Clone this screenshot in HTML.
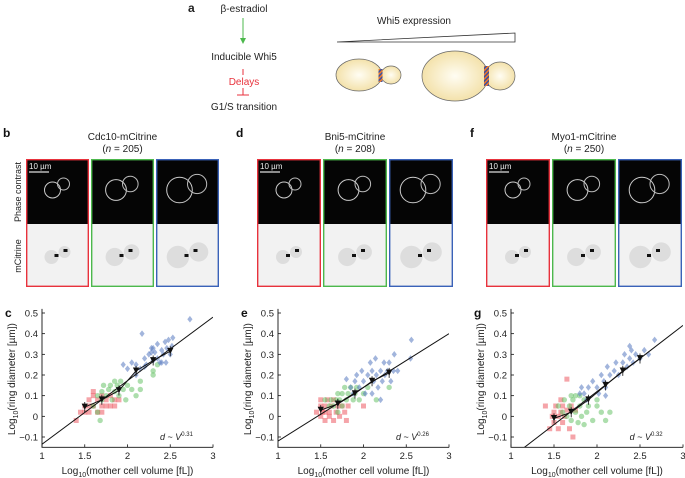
<!DOCTYPE html>
<html><head><meta charset="utf-8"><style>
body{margin:0;background:#fff;}
svg{display:block;font-family:"Liberation Sans",sans-serif;}
</style></head><body>
<svg id="fig" width="685" height="478" viewBox="0 0 685 478">
<defs>
<radialGradient id="cellg" cx="50%" cy="50%" r="60%"><stop offset="0" stop-color="#fffdf3"/><stop offset="1" stop-color="#f1dc9c"/></radialGradient>
<pattern id="hatch" width="3" height="3" patternUnits="userSpaceOnUse" patternTransform="rotate(45)"><rect width="3" height="3" fill="#f07a2a"/><rect width="1.5" height="3" fill="#3b4fa0"/></pattern>
</defs>
<!-- panel a -->
<g font-size="10" fill="#222">
<text x="188" y="12" font-weight="bold" font-size="12">a</text>
<text x="244" y="12" text-anchor="middle">β-estradiol</text>
<line x1="243" y1="18" x2="243" y2="40" stroke="#4cb84c" stroke-width="1"/>
<path d="M240,38 L243,44 L246,38 Z" fill="#4cb84c"/>
<text x="244" y="60" text-anchor="middle">Inducible Whi5</text>
<line x1="243" y1="69" x2="243" y2="75" stroke="#e8323c"/>
<text x="244" y="85" text-anchor="middle" fill="#e8323c">Delays</text>
<line x1="243" y1="88" x2="243" y2="95" stroke="#e8323c"/><line x1="237" y1="95" x2="249" y2="95" stroke="#e8323c"/>
<text x="244" y="110" text-anchor="middle">G1/S transition</text>
<text x="414" y="24" text-anchor="middle">Whi5 expression</text>
<path d="M337,42 L515,33 L515,42 Z" fill="#fff" stroke="#333" stroke-width="0.8"/>
<g stroke="#666" stroke-width="0.7">
<ellipse cx="359" cy="75" rx="23" ry="16" fill="url(#cellg)"/>
<ellipse cx="391" cy="75" rx="10" ry="9" fill="url(#cellg)"/>
<rect x="378.5" y="69" width="4" height="13" fill="url(#hatch)" stroke="none"/>
</g>
<g stroke="#666" stroke-width="0.7">
<ellipse cx="455" cy="76" rx="33" ry="25" fill="url(#cellg)"/>
<ellipse cx="500" cy="76" rx="15" ry="14" fill="url(#cellg)"/>
<rect x="484" y="66" width="5" height="20" fill="url(#hatch)" stroke="none"/>
</g>
</g>
<g id="micro"></g>
<g id="charts"></g>
</svg>
<script>
const NS="http://www.w3.org/2000/svg";
function mk(tag,attrs,parent,txt){const e=document.createElementNS(NS,tag);for(const k in attrs)e.setAttribute(k,attrs[k]);if(txt!==undefined)e.textContent=txt;parent.appendChild(e);return e;}
// ---------- micrograph panels ----------
const micro=document.getElementById('micro');
const panels=[{l:'b',lx:3,title:'Cdc10-mCitrine',n:'205',x:[26,91,156],w:63,sb:true},
{l:'d',lx:236,title:'Bni5-mCitrine',n:'208',x:[257,323,389],w:64,sb:true},
{l:'f',lx:470,title:'Myo1-mCitrine',n:'250',x:[486,552,618],w:64,sb:true}];
const boxCols=['#e8323c','#4cb84c','#3a62b8'];
panels.forEach((p,pi)=>{
 const g=mk('g',{},micro);
 
 
 const t=mk('text',{x:p.lx,y:137,'font-size':12,'font-weight':'bold',fill:'#111'},g,p.l);
 
 const cx=(p.x[0]+p.x[2]+p.w)/2;
 const tt=mk('text',{x:cx,y:140,'font-size':10,'text-anchor':'middle',fill:'#222'},g,p.title);
 
 const nt=mk('text',{x:cx,y:152,'font-size':10,'text-anchor':'middle',fill:'#222'},g);
 
 nt.innerHTML='(<tspan font-style="italic">n</tspan> = '+p.n+')';
 p.x.forEach((x,i)=>{
  const r1=mk('rect',{x:x,y:159,width:p.w,height:65,fill:'#050505'},g);
  
  const r2=mk('rect',{x:x,y:224,width:p.w,height:63,fill:'#f2f2f2'},g);
  
  const s=1+i*0.3, ccx=x+p.w/2, ccy=190;
  mk('circle',{cx:ccx-5*s,cy:ccy,r:8*s,fill:'none',stroke:'#ccc','stroke-width':1},g);
  mk('circle',{cx:ccx+6*s,cy:ccy-6,r:6*s,fill:'none',stroke:'#bbb','stroke-width':1},g);
  mk('circle',{cx:ccx-6*s,cy:257,r:7*s,fill:'#ddd'},g);
  mk('circle',{cx:ccx+7*s,cy:252,r:6*s,fill:'#ddd'},g);
  mk('rect',{x:ccx-3,y:254,width:4,height:3,fill:'#111'},g);
  mk('rect',{x:ccx+6,y:249,width:4,height:3,fill:'#111'},g);
  const b=mk('rect',{x:x+0.7,y:159.7,width:p.w-1.4,height:126.6,fill:'none',stroke:boxCols[i],'stroke-width':1.4},g);
  
 });
 mk('line',{x1:p.x[0]+3,y1:172,x2:p.x[0]+23,y2:172,stroke:'#ddd','stroke-width':1.2},g);
 const sb=mk('text',{x:p.x[0]+3,y:169,'font-size':8,fill:'#eee'},g,'10 µm');
 
 if(pi===0){
  const a=mk('text',{transform:'translate(21,192) rotate(-90)','font-size':9,'text-anchor':'middle',fill:'#222'},g,'Phase contrast');
  
  const c=mk('text',{transform:'translate(21,256) rotate(-90)','font-size':9,'text-anchor':'middle',fill:'#222'},g,'mCitrine');
  
 }
});
// ---------- chart data ----------
const xTicks=[1,1.5,2,2.5,3];
const yTicks=[-0.1,0,0.1,0.2,0.3,0.4,0.5];
const cRed=[[1.4,-0.02],[1.45,0.02],[1.5,0.02],[1.5,0.05],[1.55,0.08],[1.55,0.02],[1.6,0.05],[1.6,0.1],[1.65,0.08],[1.65,0.02],[1.7,0.05],[1.7,0.1],[1.75,0.08],[1.75,0.05],[1.8,0.1],[1.8,0.05],[1.85,0.08],[1.9,0.08],[1.6,0.12],[1.7,0.02],[1.55,0.05],[1.85,0.05]];
const cGreen=[[1.6,0.05],[1.65,0.1],[1.65,0.02],[1.68,-0.02],[1.7,0.12],[1.72,0.15],[1.75,0.1],[1.78,0.13],[1.8,0.15],[1.82,0.08],[1.85,0.12],[1.88,0.15],[1.9,0.1],[1.92,0.17],[1.95,0.13],[1.98,0.08],[2.0,0.15],[2.05,0.13],[2.1,0.1],[2.15,0.17],[2.15,0.13],[2.3,0.2],[2.3,0.22],[1.85,0.17],[1.7,0.08],[2.35,0.25]];
const cBlue=[[1.95,0.25],[2.0,0.23],[2.05,0.26],[2.1,0.25],[2.1,0.2],[2.15,0.23],[2.17,0.4],[2.2,0.28],[2.22,0.25],[2.25,0.3],[2.28,0.33],[2.3,0.27],[2.32,0.31],[2.35,0.35],[2.35,0.28],[2.38,0.26],[2.4,0.32],[2.42,0.3],[2.44,0.36],[2.46,0.33],[2.48,0.37],[2.5,0.3],[2.52,0.34],[2.53,0.38],[2.45,0.26],[2.4,0.26],[2.28,0.31],[2.73,0.47],[2.3,0.33],[2.2,0.24]];
const cMeanX=[1.5,1.7,1.9,2.1,2.3,2.5];
const cMeanY=[0.045,0.08,0.125,0.22,0.27,0.315];
const cFit=[-0.135,0.48];
const eRed=[[1.45,0.02],[1.5,0.0],[1.5,0.05],[1.52,0.02],[1.55,-0.02],[1.55,0.05],[1.58,0.08],[1.6,0.02],[1.6,0.0],[1.62,0.05],[1.65,-0.02],[1.65,0.08],[1.68,0.02],[1.7,0.05],[1.72,0.0],[1.75,0.05],[1.78,0.02],[1.8,-0.02],[1.82,0.05],[1.5,0.08],[1.55,0.02],[2.0,0.05]];
const eGreen=[[1.55,0.08],[1.6,0.05],[1.62,0.08],[1.65,0.05],[1.68,0.08],[1.7,0.11],[1.72,0.08],[1.75,0.11],[1.75,0.05],[1.78,0.14],[1.8,0.08],[1.82,0.11],[1.85,0.14],[1.88,0.08],[1.9,0.11],[1.92,0.14],[1.95,0.08],[2.0,0.11],[2.05,0.14],[2.15,0.08],[2.3,0.14],[1.7,0.02]];
const eBlue=[[1.8,0.18],[1.85,0.14],[1.88,0.11],[1.9,0.17],[1.92,0.2],[1.95,0.14],[1.98,0.22],[2.0,0.17],[2.02,0.11],[2.05,0.2],[2.08,0.26],[2.1,0.22],[2.12,0.17],[2.14,0.28],[2.15,0.2],[2.17,0.14],[2.2,0.22],[2.22,0.17],[2.24,0.26],[2.25,0.2],[2.28,0.22],[2.3,0.26],[2.32,0.17],[2.35,0.22],[2.36,0.3],[2.4,0.22],[2.2,0.08],[2.56,0.37],[2.55,0.28],[2.1,0.11]];
const eMeanX=[1.5,1.7,1.9,2.1,2.3];
const eMeanY=[0.03,0.06,0.11,0.17,0.21];
const eFit=[-0.12,0.40];
const gRed=[[1.4,0.05],[1.45,-0.06],[1.48,0.0],[1.5,0.02],[1.5,-0.03],[1.52,0.05],[1.55,0.0],[1.55,-0.06],[1.58,0.02],[1.6,0.05],[1.62,0.0],[1.65,0.18],[1.65,0.03],[1.68,-0.06],[1.7,0.05],[1.72,-0.1],[1.75,0.03],[1.6,-0.03],[1.58,0.08]];
const gGreen=[[1.55,0.05],[1.6,0.02],[1.62,0.08],[1.65,0.0],[1.68,0.05],[1.7,-0.02],[1.72,0.08],[1.75,0.02],[1.75,0.1],[1.78,-0.03],[1.8,0.05],[1.82,0.0],[1.85,0.08],[1.85,-0.04],[1.88,0.02],[1.9,0.05],[1.95,-0.02],[2.0,0.05],[2.05,0.02],[2.1,-0.02],[2.15,0.02],[2.0,0.08],[1.8,0.1],[1.7,0.1]];
const gBlue=[[1.8,0.11],[1.82,0.14],[1.85,0.11],[1.88,0.08],[1.9,0.14],[1.95,0.17],[2.0,0.14],[2.02,0.11],[2.05,0.2],[2.08,0.17],[2.1,0.14],[2.12,0.24],[2.15,0.2],[2.2,0.22],[2.22,0.26],[2.25,0.2],[2.3,0.26],[2.32,0.3],[2.35,0.24],[2.38,0.28],[2.4,0.32],[2.42,0.26],[2.45,0.3],[2.5,0.28],[2.55,0.32],[2.6,0.3],[2.67,0.37],[2.38,0.34],[2.1,0.1]];
const gMeanX=[1.5,1.7,1.9,2.1,2.3,2.5];
const gMeanY=[-0.01,0.02,0.08,0.15,0.22,0.28];
const gFit=[-0.2,0.44];
// ---------- chart drawing ----------
const charts=document.getElementById('charts');
function drawChart(id,letter,px1,px3,red,green,blue,mx,my,fit,expo){
 const g=mk('g',{},charts);
 
 
 const yTop=313,yBot=437; // 0.5 and -0.1
 const X=v=>px1+(v-1)*(px3-px1)/2;
 const Y=v=>yBot-(v+0.1)*(yBot-yTop)/0.6;
 const clip=mk('clipPath',{id:'clip'+letter},g);
 mk('rect',{x:X(1),y:Y(0.52),width:X(3)-X(1),height:Y(-0.15)-Y(0.52)},clip);
 const pts=mk('g',{'clip-path':'url(#clip'+letter+')'},g);
 red.forEach(p=>{const r=mk('rect',{x:X(p[0])-2.5,y:Y(p[1])-2.5,width:5,height:5,fill:'#ec5a62','fill-opacity':0.55},pts);
  });
 green.forEach(p=>{const c=mk('circle',{cx:X(p[0]),cy:Y(p[1]),r:2.7,fill:'#5bbd5b','fill-opacity':0.5},pts);
  });
 blue.forEach(p=>{const x=X(p[0]),y=Y(p[1]);const d=mk('path',{d:`M${x},${y-3.3}L${x+2.6},${y}L${x},${y+3.3}L${x-2.6},${y}Z`,fill:'#5578c0','fill-opacity':0.55},pts);
  });
 const fl=mk('line',{x1:X(1),y1:Y(fit[0]),x2:X(3),y2:Y(fit[1]),stroke:'#111','stroke-width':1},pts);
 
 let dpath='';
 mx.forEach((v,i)=>{dpath+=(i?'L':'M')+X(v)+','+Y(my[i]);});
 const ml=mk('path',{d:dpath,fill:'none',stroke:'#111','stroke-width':1},g);
 
 mx.forEach((v,i)=>{const x=X(v),y=Y(my[i]);
  const m=mk('path',{d:`M${x-2.5},${y-3}L${x+2.5},${y-3}L${x},${y+2}Z M${x},${y-5}L${x},${y+5}`,fill:'#111',stroke:'#111','stroke-width':0.8},g);
  });
 // axes
 const ax=mk('path',{d:`M${X(1)},${Y(0.52)}L${X(1)},${Y(-0.15)}L${X(3)},${Y(-0.15)}`,fill:'none',stroke:'#111','stroke-width':0.9},g);
 
 yTicks.forEach(t=>{mk('line',{x1:X(1),x2:X(1)+3,y1:Y(t),y2:Y(t),stroke:'#111','stroke-width':0.8},g);
  const tl=mk('text',{x:X(1)-4,y:Y(t)+3.5,'font-size':9.5,'text-anchor':'end',fill:'#222'},g,(t<0?'\u2212':'')+Math.abs(t));
  });
 xTicks.forEach(t=>{mk('line',{x1:X(t),x2:X(t),y1:Y(-0.15),y2:Y(-0.15)-3,stroke:'#111','stroke-width':0.8},g);
  const tl=mk('text',{x:X(t),y:459,'font-size':9.5,'text-anchor':'middle',fill:'#222'},g,String(t));
  });
 const xl=mk('text',{x:(X(1)+X(3))/2,y:474,'font-size':10,'text-anchor':'middle',fill:'#222'},g);
 xl.innerHTML='Log<tspan font-size="7" dy="3">10</tspan><tspan dy="-3">(mother cell volume [fL])</tspan>';
 
 const yl=mk('text',{transform:`translate(${X(1)-27},${Y(0.18)}) rotate(-90)`,'font-size':10,'text-anchor':'middle',fill:'#222'},g);
 yl.innerHTML='Log<tspan font-size="7" dy="3">10</tspan><tspan dy="-3">(ring diameter [µm])</tspan>';
 
 const lt=mk('text',{x:X(1)-37,y:317,'font-size':12,'font-weight':'bold',fill:'#111'},g,letter);
 
 const an=mk('text',{x:X(2.38),y:Y(-0.1)+3,'font-size':9,fill:'#222'},g);
 an.innerHTML='<tspan font-style="italic">d</tspan> ~ <tspan font-style="italic">V</tspan><tspan font-size="6" dy="-4">'+expo+'</tspan>';
 
}
drawChart('c','c',42,213,cRed,cGreen,cBlue,cMeanX,cMeanY,cFit,'0.31');
drawChart('e','e',278,449,eRed,eGreen,eBlue,eMeanX,eMeanY,eFit,'0.26');
drawChart('g','g',511,683,gRed,gGreen,gBlue,gMeanX,gMeanY,gFit,'0.32');
</script>
</body></html>
